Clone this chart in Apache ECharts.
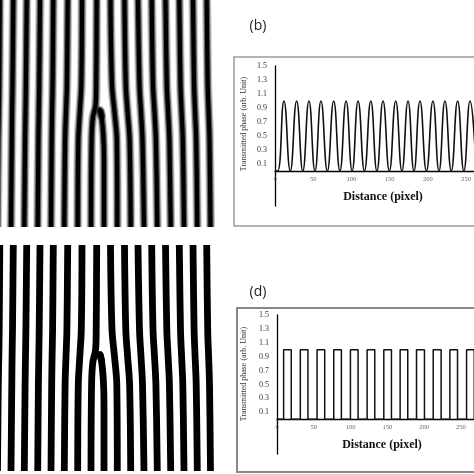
<!DOCTYPE html>
<html><head><meta charset="utf-8">
<script src="https://cdn.jsdelivr.net/npm/echarts@6/dist/echarts.min.js"></script>
<style>html,body{margin:0;padding:0;background:#fff}#c{width:474px;height:474px}</style>
</head><body><div id="c"></div>
<script>
// ---------- Panel (b): sinusoidal transmitted phase ----------
const phaseDistance = [0, 3.5, 11.7, 20, 28.3, 36.4, 44.4, 52.3, 60.1, 68.5, 76.8, 84.9, 93, 100.9, 108.7, 117, 125.3, 133.3, 141.3, 149.6, 157.9, 166, 174, 181.8, 189.6, 198.1, 206.6, 214.5, 222.3, 230.6, 238.9, 247, 255.1, 263];
const phaseValue    = [0, 0,   1,    0,  1,    0,    1,    0,    1,    0,    1,    0,    1,  0,     1,     0,   1,     0,     1,     0,     1,     0,   1,   0,     1,     0,     1,     0,     1,     0,     1,     0,   1,     0];

// ---------- Panel (d): binary transmitted phase ----------
const pulseRise = [9.0, 31.7, 54.5, 77.2, 99.9, 122.6, 145.3, 167.5, 189.8, 212.5, 235.2, 257.9];
const pulseFall = [19.4, 42.1, 64.9, 87.6, 110.3, 133.0, 155.7, 177.9, 200.6, 223.3, 245.6, 268.3];
const binaryLow = 0;
const binaryHigh = 1;

// ---------- tick labels ----------
const yTickLabels = ['0.1', '0.3', '0.5', '0.7', '0.9', '1.1', '1.3', '1.5'];
const xTickLabels = [0, 50, 100, 150, 200, 250];

// ---------- Fork grating stripes (panels a, c), centre-lines ----------
const stripeLevels = [0, 85, 112, 140, 227];
const stripeCentres = [
  [-0.2, -0.8, -1.2, -1.7, -2.5],
  [13.3, 12.5, 12.1, 11.8, 11.0],
  [26.7, 25.9, 25.5, 25.1, 24.3],
  [40.0, 39.2, 38.8, 38.4, 37.7],
  [53.3, 52.6, 52.1, 51.7, 51.0],
  [67.7, 66.9, 66.0, 65.1, 64.3],
  [82.0, 81.3, 79.8, 78.3, 77.7],
  [110.5, 112.0, 114.5, 116.8, 117.3],
  [124.5, 125.8, 127.6, 129.6, 130.7],
  [138.0, 139.5, 141.0, 142.5, 144.0],
  [151.7, 153.0, 154.5, 155.9, 157.3],
  [165.5, 166.8, 168.1, 169.4, 170.7],
  [179.3, 180.5, 181.6, 182.8, 184.0],
  [193.0, 194.1, 195.1, 196.2, 197.3],
  [206.7, 207.7, 208.6, 209.5, 210.5]
];
const forkStripeLevels = [0, 85, 105, 118, 140, 227];
const forkStripeX      = [96.7, 96.2, 95.6, 92.8, 91.6, 91.0];
const newStripeLevels  = [110, 116, 135, 160, 227];
const newStripeX       = [100.0, 101.5, 103.3, 104.0, 104.0];
const newStripeTipLevels = [110, 116];
const newStripeTipX      = [100.0, 101.5];

// ---------- build ----------
const serif = "'Liberation Serif','Times New Roman',serif";
const sans = "'Open Sans','Noto Sans',sans-serif";

function pts(xs, ys) { return xs.map((x, i) => [x, ys[i]]); }

const softLayers = [
  { w: 9, c: 'rgba(0,0,0,0.22)' },
  { w: 6.6, c: 'rgba(0,0,0,0.5)' },
  { w: 4.2, c: '#000' }
];
const hardLayers = [{ w: 6.8, c: '#000' }];

const series = [];
function addGrating(axisIdx, layers) {
  const all = stripeCentres.map(s => ({ d: pts(s, stripeLevels), cap: 'butt' }));
  all.push({ d: pts(forkStripeX, forkStripeLevels), cap: 'butt' });
  all.push({ d: pts(newStripeX, newStripeLevels), cap: 'butt' });
  all.push({ d: pts(newStripeTipX, newStripeTipLevels), cap: 'round' });
  layers.forEach(L => {
    all.forEach(st => {
      series.push({
        type: 'line', xAxisIndex: axisIdx, yAxisIndex: axisIdx,
        data: st.d, smooth: 0.35, showSymbol: false, silent: true, animation: false,
        lineStyle: { width: L.w, color: L.c, cap: st.cap, join: 'round' }
      });
    });
  });
}
addGrating(0, softLayers);
addGrating(1, hardLayers);

series.push({
  type: 'line', xAxisIndex: 2, yAxisIndex: 2,
  data: pts(phaseDistance, phaseValue), smooth: 0.5, showSymbol: false, animation: false,
  lineStyle: { width: 1.6, color: '#111' }
});

const binaryData = [[0, binaryLow]];
pulseRise.forEach((r, i) => {
  binaryData.push([r, binaryLow], [r, binaryHigh], [pulseFall[i], binaryHigh], [pulseFall[i], binaryLow]);
});
series.push({
  type: 'line', xAxisIndex: 3, yAxisIndex: 3,
  data: binaryData, showSymbol: false, animation: false,
  lineStyle: { width: 1.5, color: '#111' }
});

function imgX(g) { return { gridIndex: g, type: 'value', min: 0, max: 216, show: false }; }
function imgY(g) { return { gridIndex: g, type: 'value', min: 0, max: 227, inverse: true, show: false }; }

function chartX(g, max, off) {
  return {
    gridIndex: g, type: 'value', min: 0, max: max, interval: 50, offset: off,
    axisLine: { show: true, onZero: false, lineStyle: { color: '#000', width: 1.3 } },
    axisTick: { show: false }, splitLine: { show: false },
    axisLabel: {
      fontFamily: serif, fontSize: 6.5, color: '#666', margin: 5,
      showMaxLabel: false,
      formatter: v => (xTickLabels.indexOf(Math.round(v)) >= 0 && Math.abs(v - Math.round(v)) < 1e-6) ? String(Math.round(v)) : ''
    }
  };
}
function chartY(g) {
  return {
    gridIndex: g, type: 'value', min: -0.5, max: 1.5, interval: 0.1,
    axisLine: { show: true, onZero: false, lineStyle: { color: '#000', width: 1.3 } },
    axisTick: { show: false }, splitLine: { show: false },
    axisLabel: {
      fontFamily: serif, fontSize: 8, color: '#333', margin: 8,
      formatter: v => { const s = v.toFixed(1); return yTickLabels.indexOf(s) >= 0 ? s : ''; }
    }
  };
}

const option = {
  backgroundColor: '#fff',
  animation: false,
  grid: [
    { left: 0, top: 0, width: 216, height: 227 },
    { left: 0, top: 245, width: 216, height: 226 },
    { left: 275, top: 66, right: 0, height: 140 },
    { left: 277, top: 315, right: 0, height: 139 }
  ],
  xAxis: [imgX(0), imgX(1), chartX(2, 260, -35), chartX(3, 268, -34.75)],
  yAxis: [imgY(0), imgY(1), chartY(2), chartY(3)],
  series: series,
  graphic: [
    { type: 'rect', shape: { x: 234, y: 57, width: 260, height: 169 }, style: { fill: 'none', stroke: '#9a9a9a', lineWidth: 1.5 }, z: 1 },
    { type: 'rect', shape: { x: 237, y: 308, width: 260, height: 164 }, style: { fill: 'none', stroke: '#888', lineWidth: 2 }, z: 1 },
    { type: 'text', x: 258, y: 26, style: { text: '(b)', font: '14px ' + sans, fill: '#222', align: 'center', verticalAlign: 'middle' } },
    { type: 'text', x: 258, y: 292, style: { text: '(d)', font: '14px ' + sans, fill: '#222', align: 'center', verticalAlign: 'middle' } },
    { type: 'text', x: 244, y: 124, rotation: Math.PI / 2, style: { text: 'Transmitted phase (arb. Unit)', font: '8px ' + serif, fill: '#333', align: 'center', verticalAlign: 'middle' } },
    { type: 'text', x: 244, y: 374, rotation: Math.PI / 2, style: { text: 'Transmitted phase (arb. Unit)', font: '8px ' + serif, fill: '#333', align: 'center', verticalAlign: 'middle' } },
    { type: 'text', x: 383, y: 197, style: { text: 'Distance (pixel)', font: 'bold 12px ' + serif, fill: '#111', align: 'center', verticalAlign: 'middle' } },
    { type: 'text', x: 382, y: 445, style: { text: 'Distance (pixel)', font: 'bold 12px ' + serif, fill: '#111', align: 'center', verticalAlign: 'middle' } }
  ]
};

const chart = echarts.init(document.getElementById('c'), null, { renderer: 'canvas' });
chart.setOption(option);
</script></body></html>
